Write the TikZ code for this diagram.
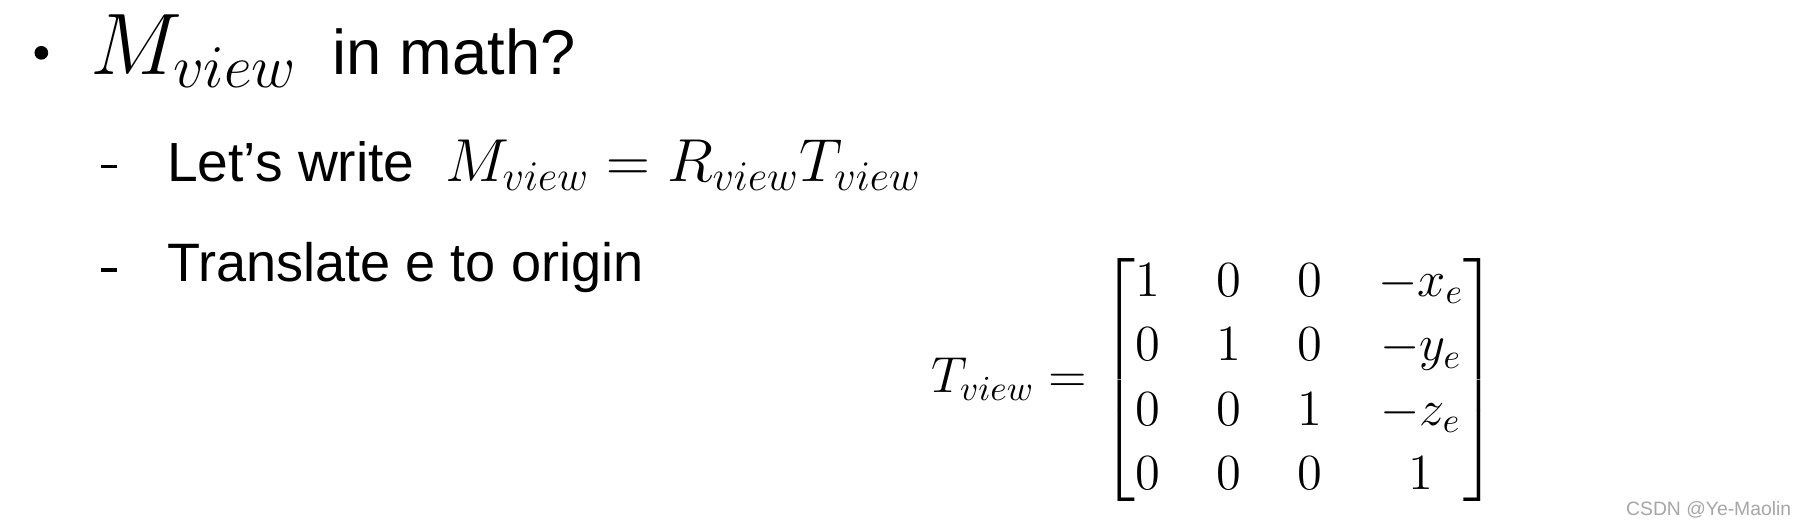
\documentclass[tikz,border=0pt]{standalone}
\usepackage{amsmath}
\usepackage{fontspec}
\setmainfont{Liberation Sans}
\begin{document}
\begin{tikzpicture}[x=0.011486cm,y=-0.011486cm,
  txt/.style={anchor=base west,inner sep=0pt,font=\fontsize{#1}{#1}\selectfont},
  subdash/.style={fill=black,inner sep=0pt,minimum width=4.6pt,minimum height=1.1pt}]
\useasboundingbox (0,0) rectangle (1568,458.8);
\node[circle,fill=black,inner sep=0pt,minimum size=3.9pt] (b) at (36,46) {};
\node[txt=17] (l1) at (78,65) {\fontsize{23}{23}\selectfont$M_{view}$\fontsize{18}{18}\selectfont\ \ in math?};
\node[subdash] (d1) at (95,145) {};
\node[txt=15.7] (l2) at (145,158) {Let’s write\ \ \fontsize{18.8}{19}\selectfont$M_{view}=R_{view}T_{view}$};
\node[subdash] (d2) at (95,235) {};
\node[txt=15.4] (l3) at (145,245) {Translate e to origin};
\node[txt=14.7] (m) at (810,342) {\setlength{\arraycolsep}{8pt}\renewcommand{\arraystretch}{1.25}$T_{view}=\begin{bmatrix}1&0&0&-x_e\\0&1&0&-y_e\\0&0&1&-z_e\\0&0&0&1\end{bmatrix}$};
\node[anchor=base east,inner sep=0pt,text=gray!70,font=\fontsize{5.5}{6}\selectfont] (w) at (1560,449) {CSDN @Ye-Maolin};
\end{tikzpicture}
\end{document}
